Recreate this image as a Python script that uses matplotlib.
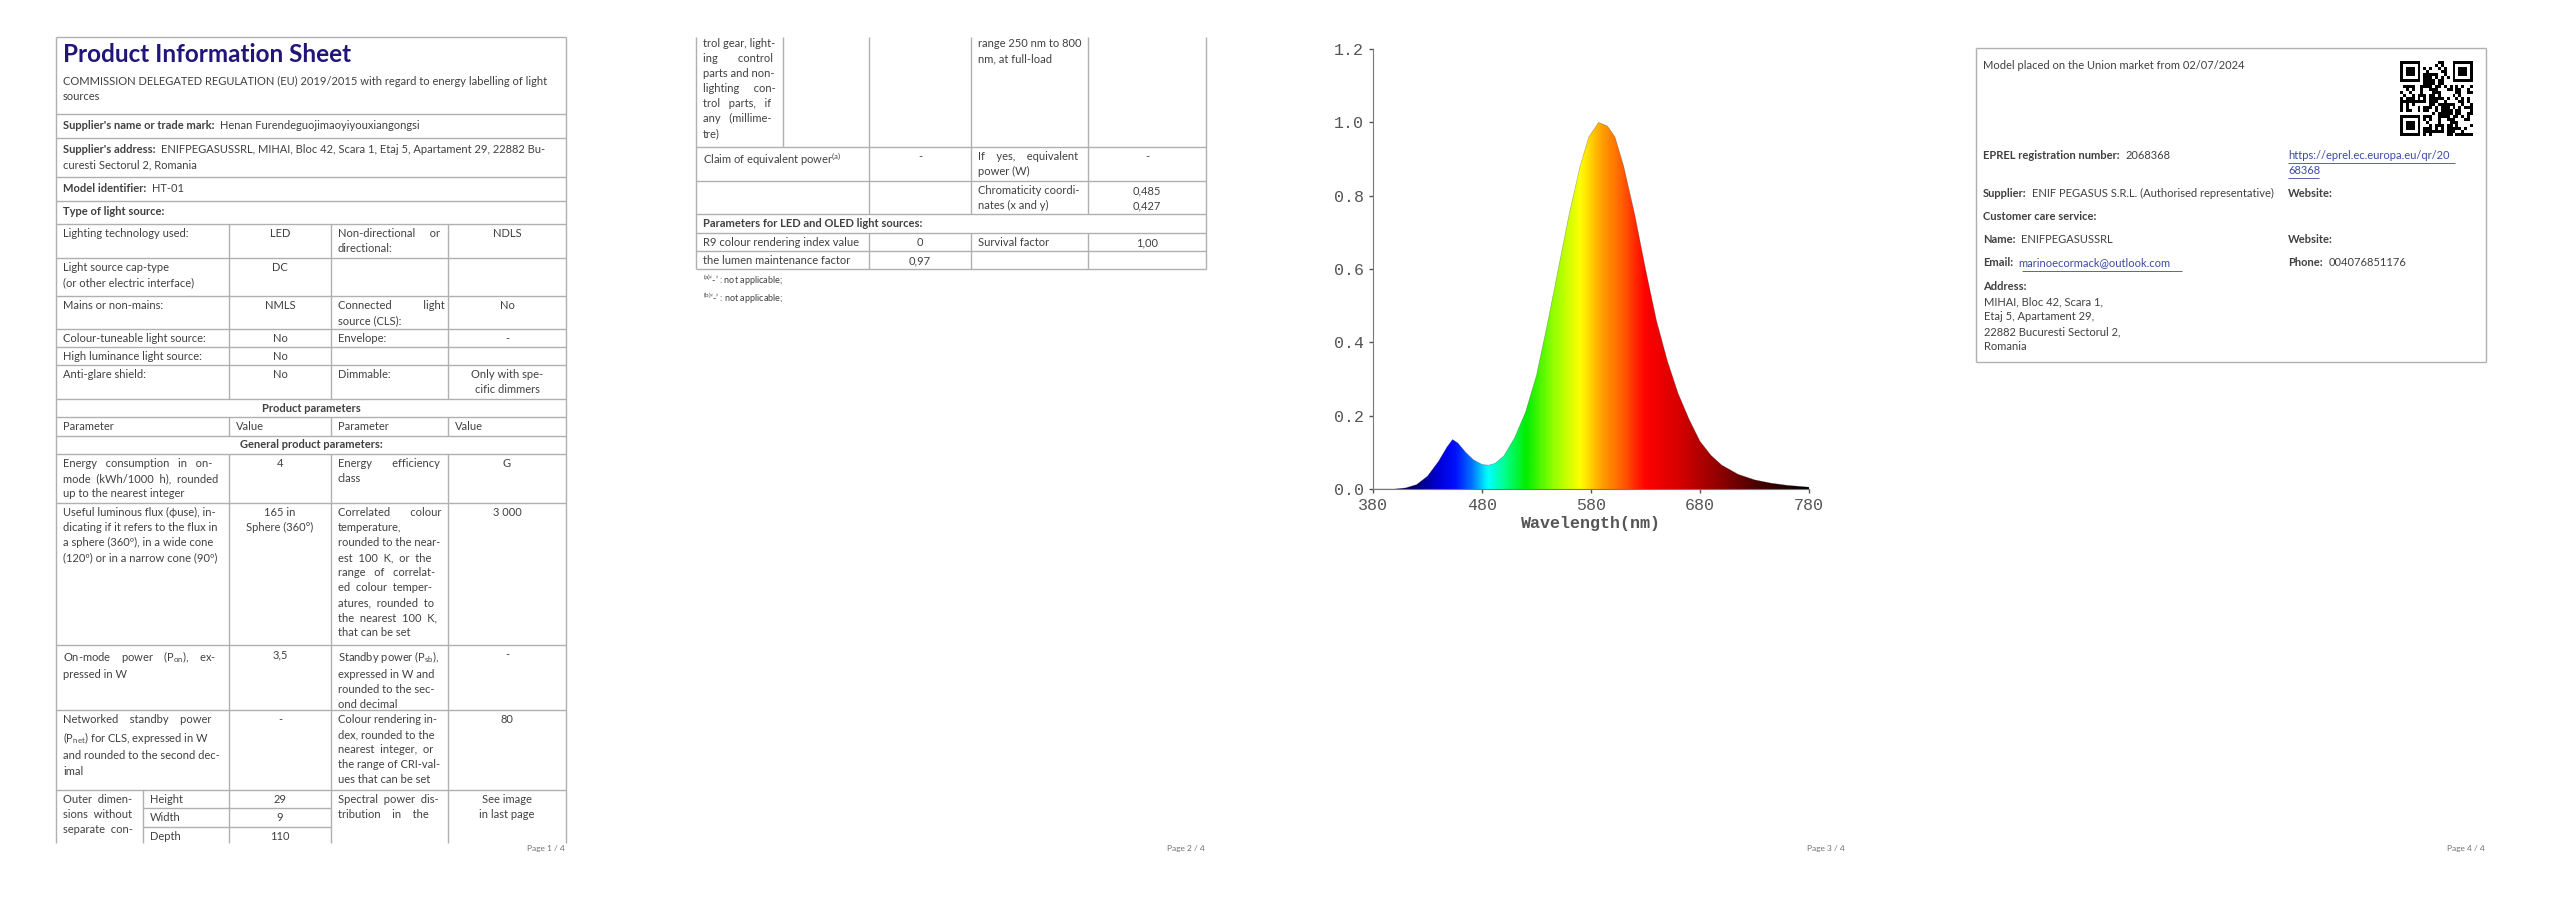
import hashlib
import numpy as np
import matplotlib
matplotlib.use("Agg")
import matplotlib.pyplot as plt
from matplotlib.colors import LinearSegmentedColormap

plt.rcParams['font.family'] = ['Lato', 'DejaVu Sans']
plt.rcParams['mathtext.fontset'] = 'custom'
plt.rcParams['mathtext.rm'] = 'Lato'
plt.rcParams['mathtext.bf'] = 'Lato:bold'

# ============================================================
# DATA
# ============================================================
wavelength = [380, 400, 410, 420, 430, 440, 448, 453, 458, 465, 472, 480, 486, 492,
              500, 510, 520, 530, 540, 550, 560, 570, 578, 587, 595, 602, 610,
              620, 630, 640, 650, 660, 670, 680, 690, 700, 715, 730, 745, 760, 780]
intensity = [0.0, 0.0, 0.003, 0.012, 0.035, 0.075, 0.115, 0.135, 0.125, 0.10, 0.08,
             0.067, 0.065, 0.07, 0.09, 0.14, 0.21, 0.31, 0.45, 0.60, 0.75, 0.88,
             0.96, 1.0, 0.99, 0.96, 0.88, 0.75, 0.60, 0.46, 0.35, 0.26, 0.19,
             0.13, 0.092, 0.065, 0.040, 0.025, 0.016, 0.010, 0.005]
x_ticks = [380, 480, 580, 680, 780]
y_ticks = [0.0, 0.2, 0.4, 0.6, 0.8, 1.0, 1.2]

spectrum_stops = [(380, '#101030'), (415, '#000060'), (440, '#0000d8'), (455, '#0010ff'),
                  (470, '#0070ff'), (485, '#00ffff'), (500, '#00ff90'), (520, '#00ee00'),
                  (545, '#90ff00'), (570, '#ffff00'), (590, '#ffa000'), (610, '#ff5a00'),
                  (630, '#ff0000'), (660, '#d80000'), (690, '#a00000'), (730, '#500000'),
                  (780, '#000000')]

TXT = '#404040'
LINE = '#b0b0b0'
FS = 8

fig = plt.figure(figsize=(25.6, 9.05), dpi=100)
ax = fig.add_axes([0, 0, 1, 1])
ax.set_xlim(0, 2560)
ax.set_ylim(905, 0)
ax.axis('off')


def t(x, y, s, bold=False, ha='left', size=FS, color=TXT, va='top', **kw):
    return ax.text(x, y, s, ha=ha, va=va, fontsize=size, color=color,
                   fontweight='bold' if bold else 'normal', linespacing=1.45, **kw)


def label_value(x, y, label, value, color=TXT):
    lt = t(x, y, label, bold=True)
    vt = ax.annotate(value, xy=(1, 1), xycoords=lt, xytext=(4, 0), textcoords='offset points',
                     ha='left', va='top', fontsize=FS, color=color, linespacing=1.45)
    return vt


# ============================================================
# PAGE 1
# ============================================================
L1, R1 = 56, 566
C1 = [229, 331, 448]
ax.vlines([L1, R1], 37, 843, color=LINE, lw=1)
for y in [37, 114, 138, 177, 201, 224, 258, 296, 329, 347, 365, 399, 417, 436, 454,
          503, 645, 710, 790]:
    ax.hlines(y, L1, R1, color=LINE, lw=1)
for (y0, y1) in [(224, 399), (417, 436), (454, 843)]:
    ax.vlines(C1, y0, y1, color=LINE, lw=1)
ax.vlines(143, 790, 843, color=LINE, lw=1)
ax.hlines([808, 827], 143, 331, color=LINE, lw=1)

t(63, 54, "Product Information Sheet", bold=True, size=17.5, color='#22157a', va='center')
t(63, 76, "COMMISSION DELEGATED REGULATION (EU) 2019/2015 with regard to energy labelling of light\nsources")
label_value(63, 120, "Supplier's name or trade mark:", "Henan Furendeguojimaoyiyouxiangongsi")
label_value(63, 144, "Supplier's address:",
            "ENIFPEGASUSSRL, MIHAI, Bloc 42, Scara 1, Etaj 5, Apartament 29, 22882 Bu-")
t(63, 159.5, "curesti Sectorul 2, Romania")
label_value(63, 183, "Model identifier:", "HT-01")
t(63, 206, "Type of light source:", bold=True)

x0, xm1, x2, xm3 = 63, 280, 338, 507
rows1 = [
    (228, "Lighting technology used:", "LED", "Non-directional     or\ndirectional:", "NDLS"),
    (262, "Light source cap-type\n(or other electric interface)", "DC", "", ""),
    (300, "Mains or non-mains:", "NMLS", "Connected           light\nsource (CLS):", "No"),
    (333, "Colour-tuneable light source:", "No", "Envelope:", "-"),
    (351, "High luminance light source:", "No", "", ""),
    (369, "Anti-glare shield:", "No", "Dimmable:", "Only with spe-\ncific dimmers"),
]
for y, a, b, c, d in rows1:
    t(x0, y, a)
    t(xm1, y, b, ha='center')
    t(x2, y, c)
    t(xm3, y, d, ha='center')
t(311, 403, "Product parameters", bold=True, ha='center')
t(x0, 421, "Parameter")
t(236, 421, "Value")
t(x2, 421, "Parameter")
t(455, 421, "Value")
t(311, 439, "General product parameters:", bold=True, ha='center')

rows1b = [
    (458, "Energy   consumption   in   on-\nmode  (kWh/1000  h),  rounded\nup to the nearest integer", "4",
     "Energy       efficiency\nclass", "G"),
    (507, "Useful luminous flux (\u03d5use), in-\ndicating if it refers to the flux in\na sphere (360\u00ba), in a wide cone\n(120\u00ba) or in a narrow cone (90\u00ba)",
     "165 in\nSphere (360\u00b0)",
     "Correlated       colour\ntemperature,\nrounded to the near-\nest  100  K,  or  the\nrange   of   correlat-\ned  colour  temper-\natures,  rounded  to\nthe  nearest  100  K,\nthat can be set", "3 000"),
    (649, "On-mode    power    (P$_{\\mathrm{on}}$),    ex-\npressed in W", "3,5",
     "Standby power (P$_{\\mathrm{sb}}$),\nexpressed in W and\nrounded to the sec-\nond decimal", "-"),
    (714, "Networked    standby    power\n(P$_{\\mathrm{net}}$) for CLS, expressed in W\nand rounded to the second dec-\nimal", "-",
     "Colour rendering in-\ndex, rounded to the\nnearest  integer,  or\nthe range of CRI-val-\nues that can be set", "80"),
]
for y, a, b, c, d in rows1b:
    t(x0, y, a)
    t(xm1, y, b, ha='center')
    t(x2, y, c)
    t(xm3, y, d, ha='center')
t(x0, 794, "Outer  dimen-\nsions  without\nseparate  con-")
for y, name, val in [(794, "Height", "29"), (812, "Width", "9"), (831, "Depth", "110")]:
    t(150, y, name)
    t(xm1, y, val, ha='center')
t(x2, 794, "Spectral  power  dis-\ntribution    in    the")
t(xm3, 794, "See image\nin last page", ha='center')

for k, xr in enumerate([565, 1205, 1845, 2485]):
    t(xr, 848, f"Page {k + 1} / 4", ha='right', size=6, color='#707070', va='center')

# ============================================================
# PAGE 2
# ============================================================
L2, R2 = 696, 1206
C2 = [869, 971, 1088]
ax.vlines([L2, R2], 37, 269, color=LINE, lw=1)
for y in [147, 181, 214, 233, 251, 269]:
    ax.hlines(y, L2, R2, color=LINE, lw=1)
ax.vlines(783, 37, 147, color=LINE, lw=1)
for (y0, y1) in [(37, 214), (233, 269)]:
    ax.vlines(C2, y0, y1, color=LINE, lw=1)
p0, pm1, p2, pm3 = 703, 920, 978, 1147
t(p0, 38, "trol gear, light-\ning       control\nparts and non-\nlighting     con-\ntrol   parts,   if\nany   (millime-\ntre)")
t(p2, 38, "range 250 nm to 800\nnm, at full-load")
rows2 = [
    (151, "Claim of equivalent power$^{\\mathrm{(a)}}$", "-", "If    yes,    equivalent\npower (W)", "-"),
    (185, "", "", "Chromaticity coordi-\nnates (x and y)", "0,485\n0,427"),
    (237, "R9 colour rendering index value", "0", "Survival factor", "1,00"),
    (255, "the lumen maintenance factor", "0,97", "", ""),
]
for y, a, b, c, d in rows2:
    t(p0, y, a)
    t(pm1, y, b, ha='center')
    t(p2, y, c)
    t(pm3, y, d, ha='center')
t(p0, 218, "Parameters for LED and OLED light sources:", bold=True)
t(p0, 273, "$^{\\mathrm{(a)}}$\u2018-\u2019 : not applicable;", size=6.5)
t(p0, 291, "$^{\\mathrm{(b)}}$\u2018-\u2019 : not applicable;", size=6.5)

# ============================================================
# PAGE 3 - spectrum
# ============================================================
sax = fig.add_axes([1373 / 2560, 1 - 489 / 905, 436 / 2560, 440 / 905])
sax.set_xlim(380, 780)
sax.set_ylim(0, 1.2)
cmap = LinearSegmentedColormap.from_list(
    'spec', [((w - 380) / 400, c) for w, c in spectrum_stops])
poly = sax.fill_between(wavelength, intensity, 0, color='none', lw=0)
grad = np.linspace(0, 1, 800)[None, :]
img = sax.imshow(grad, extent=[380, 780, 0, 1.2], aspect='auto', cmap=cmap, origin='lower')
img.set_clip_path(poly.get_paths()[0], transform=sax.transData)
sax.plot(wavelength, intensity, color='#303030', lw=0.4, alpha=0.4)
sax.set_xticks(x_ticks)
sax.set_yticks(y_ticks)
sax.set_yticklabels([f"{v:.1f}" for v in y_ticks])
for s in ['top', 'right']:
    sax.spines[s].set_visible(False)
for s in ['left', 'bottom']:
    sax.spines[s].set_color('#777777')
sax.tick_params(colors='#555555', labelsize=12, length=3, width=1)
for lab in sax.get_xticklabels() + sax.get_yticklabels():
    lab.set_family('Liberation Mono')
sax.set_xlabel("Wavelength(nm)", family='Liberation Mono', fontsize=12,
               fontweight='bold', color='#555555', labelpad=2)

# ============================================================
# PAGE 4
# ============================================================
L4, R4, T4, B4 = 1976, 2486, 48, 362
ax.vlines([L4, R4], T4, B4, color=LINE, lw=1)
ax.hlines([T4, B4], L4, R4, color=LINE, lw=1)
t(1983, 60, "Model placed on the Union market from 02/07/2024")

# QR code (pattern only)
n = 25
bits = np.unpackbits(np.frombuffer(hashlib.sha256(b"https://eprel.ec.europa.eu/qr/2068368").digest() * 3, dtype=np.uint8))
qr = bits[:n * n].reshape(n, n).astype(float)
for (r, c) in [(0, 0), (0, n - 7), (n - 7, 0)]:
    qr[max(r - 1, 0):r + 8, max(c - 1, 0):c + 8] = 0
    qr[r:r + 7, c:c + 7] = 1
    qr[r + 1:r + 6, c + 1:c + 6] = 0
    qr[r + 2:r + 5, c + 2:c + 5] = 1
qax = fig.add_axes([2400 / 2560, 1 - 136 / 905, 73 / 2560, 75 / 905])
qax.imshow(qr, cmap='Greys', interpolation='nearest', aspect='auto')
qax.axis('off')

LINK = '#3a4aa8'
label_value(1983, 150, "EPREL registration number:", "2068368")
t(2288, 150, "https://eprel.ec.europa.eu/qr/20\n68368", color=LINK)
ax.hlines([163, 178], [2288, 2288], [2455, 2319], color=LINK, lw=0.6)
label_value(1983, 188, "Supplier:", "ENIF PEGASUS S.R.L. (Authorised representative)")
t(2288, 188, "Website:", bold=True)
t(1983, 211, "Customer care service:", bold=True)
label_value(1983, 234, "Name:", "ENIFPEGASUSSRL")
t(2288, 234, "Website:", bold=True)
label_value(1983, 257, "Email:", "marinoecormack@outlook.com", color=LINK)
ax.hlines(271, 2022, 2182, color=LINK, lw=0.6)
label_value(2288, 257, "Phone:", "004076851176")
t(1983, 281, "Address:", bold=True)
t(1984, 296, "MIHAI, Bloc 42, Scara 1,\nEtaj 5, Apartament 29,\n22882 Bucuresti Sectorul 2,\nRomania")

fig.savefig("out.png", dpi=100, facecolor='white')
